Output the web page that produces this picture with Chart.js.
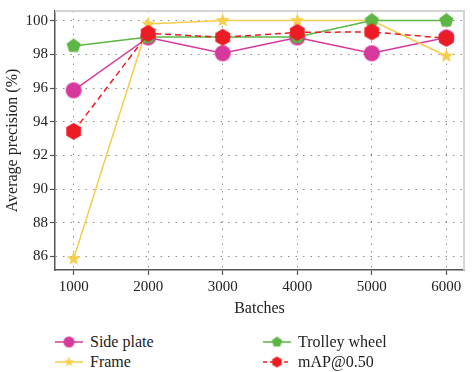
<!DOCTYPE html>
<html>
<head>
<meta charset="utf-8">
<script src="https://cdn.jsdelivr.net/npm/chart.js@4/dist/chart.umd.min.js"></script>
<style>
  html, body { margin: 0; padding: 0; background: #fff; }
  #wrap { position: relative; width: 474px; height: 372px; }
  #chartBox { position: absolute; left: 0; top: 0; width: 474px; height: 320px; }
  #legend { position: absolute; left: 0; top: 332px; width: 474px; font-family: 'Liberation Serif', serif; font-size: 16px; color: #222; }
  .item { position: absolute; display: flex; align-items: center; height: 20px; }
  .item canvas { margin-right: 7px; }
</style>
</head>
<body>
<div id="wrap">
  <div id="chartBox"><canvas id="chart"></canvas></div>
  <div id="legend"></div>
</div>
<script>
// Data
const batches = [1000, 2000, 3000, 4000, 5000, 6000];
const sidePlate = [95.86, 99.0, 98.06, 99.0, 98.06, 99.0];
const frame = [85.87, 99.8, 100, 100, 100, 97.9];
const trolleyWheel = [98.5, 99.03, 99.03, 99.03, 100, 100];
const mAP50 = [93.43, 99.24, 99.01, 99.3, 99.33, 98.95];
const yTicks = [86, 88, 90, 92, 94, 96, 98, 100];
const seriesNames = ['Side plate', 'Frame', 'Trolley wheel', 'mAP@0.50'];
const seriesColors = ['#d6399b', '#f5cd4c', '#5db544', '#ec1c24'];
const seriesShapes = ['circle', 'star', 'pentagon', 'hexagon'];

const FONT = "'Liberation Serif', serif";

// Filled marker drawn on a small canvas, used as pointStyle
function makeMarker(shape, r, color) {
    const size = Math.ceil(r * 2 + 2);
    const c = document.createElement('canvas');
    c.width = size;
    c.height = size;
    const ctx = c.getContext('2d');
    ctx.translate(size / 2, size / 2);
    ctx.fillStyle = color;
    ctx.beginPath();
    if (shape === 'circle') {
        ctx.arc(0, 0, r, 0, Math.PI * 2);
    } else if (shape === 'star') {
        for (let i = 0; i < 10; i++) {
            const rad = i % 2 === 0 ? r : r * 0.42;
            const a = -Math.PI / 2 + i * Math.PI / 5;
            ctx.lineTo(rad * Math.cos(a), rad * Math.sin(a));
        }
    } else {
        const n = shape === 'pentagon' ? 5 : 6;
        for (let i = 0; i < n; i++) {
            const a = -Math.PI / 2 + i * 2 * Math.PI / n;
            ctx.lineTo(r * Math.cos(a), r * Math.sin(a));
        }
    }
    ctx.closePath();
    ctx.fill();
    return c;
}

const seriesValues = [sidePlate, frame, trolleyWheel, mAP50];
const markerSizes = [8, 7.5, 7.5, 8.5];
const drawOrder = [3, 2, 1, 0];

const datasets = seriesNames.map((name, i) => ({
    label: name,
    data: batches.map((b, j) => ({ x: b, y: seriesValues[i][j] })),
    borderColor: seriesColors[i],
    backgroundColor: seriesColors[i],
    borderWidth: 1.5,
    borderDash: i === 3 ? [6, 4] : [],
    pointStyle: makeMarker(seriesShapes[i], markerSizes[i], seriesColors[i]),
    pointRadius: markerSizes[i],
    tension: 0,
    order: drawOrder[i]
}));

// light frame on the top and right edges of the plot
const frameLines = {
    id: 'frameLines',
    afterDraw(chart) {
        const { ctx, chartArea: a } = chart;
        ctx.save();
        ctx.strokeStyle = '#d4d4d4';
        ctx.lineWidth = 2;
        ctx.beginPath();
        ctx.moveTo(a.left, a.top);
        ctx.lineTo(a.right, a.top);
        ctx.lineTo(a.right, a.bottom);
        ctx.stroke();
        ctx.restore();
    }
};

new Chart(document.getElementById('chart'), {
    type: 'line',
    data: { datasets },
    plugins: [frameLines],
    options: {
        responsive: true,
        maintainAspectRatio: false,
        animation: false,
        layout: { padding: { top: 1, right: 2, left: 0, bottom: 0 } },
        plugins: { legend: { display: false }, tooltip: { enabled: false } },
        scales: {
            x: {
                type: 'linear',
                min: 750,
                max: 6237,
                afterBuildTicks: s => { s.ticks = batches.map(v => ({ value: v })); },
                afterFit: s => { s.height = 50; },
                grid: {
                    color: '#8a8a8a',
                    tickColor: '#555',
                    tickLength: 5,
                    tickWidth: 1.2
                },
                border: { color: '#555', width: 1.5, dash: [1.5, 6] },
                ticks: {
                    color: '#222',
                    font: { family: FONT, size: 15 },
                    padding: 3,
                    maxRotation: 0,
                    callback: v => String(v)
                },
                title: {
                    display: true,
                    text: 'Batches',
                    color: '#222',
                    font: { family: FONT, size: 16 },
                    padding: { top: 2, bottom: 2 }
                }
            },
            y: {
                min: 85.2,
                max: 100.57,
                afterBuildTicks: s => { s.ticks = yTicks.map(v => ({ value: v })); },
                afterFit: s => { s.width = 55; },
                grid: {
                    color: '#8a8a8a',
                    tickColor: '#555',
                    tickLength: 5,
                    tickWidth: 1.2
                },
                border: { color: '#555', width: 1.5, dash: [1.5, 6] },
                ticks: {
                    color: '#222',
                    font: { family: FONT, size: 15 },
                    padding: 2
                },
                title: {
                    display: true,
                    text: 'Average precision (%)',
                    color: '#222',
                    font: { family: FONT, size: 16 },
                    padding: { top: 3.5, bottom: 3 }
                }
            }
        }
    }
});

// Legend: two columns, two rows
const legendPos = [
    { left: 55, top: 0 },
    { left: 55, top: 20 },
    { left: 263, top: 0 },
    { left: 263, top: 20 }
];
const legendEl = document.getElementById('legend');
seriesNames.forEach((name, i) => {
    const item = document.createElement('div');
    item.className = 'item';
    item.style.left = legendPos[i].left + 'px';
    item.style.top = legendPos[i].top + 'px';
    const icon = document.createElement('canvas');
    icon.width = 28;
    icon.height = 14;
    const ctx = icon.getContext('2d');
    ctx.strokeStyle = seriesColors[i];
    ctx.lineWidth = 1.5;
    ctx.setLineDash(i === 3 ? [4, 3] : []);
    ctx.beginPath();
    ctx.moveTo(0, 7);
    ctx.lineTo(28, 7);
    ctx.stroke();
    const m = makeMarker(seriesShapes[i], 5.5, seriesColors[i]);
    ctx.drawImage(m, 14 - m.width / 2, 7 - m.height / 2);
    const label = document.createElement('span');
    label.textContent = name;
    item.appendChild(icon);
    item.appendChild(label);
    legendEl.appendChild(item);
});
</script>
</body>
</html>
